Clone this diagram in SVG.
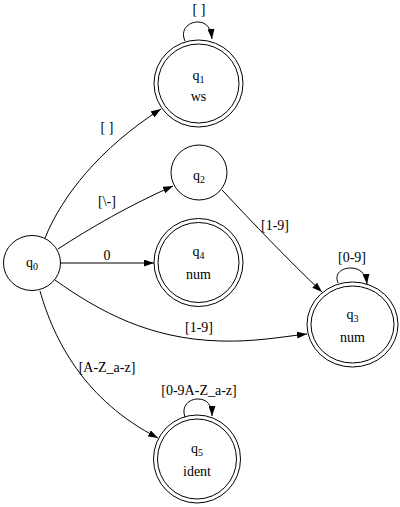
<svg xmlns="http://www.w3.org/2000/svg" width="400" height="507" viewBox="0 0 400 507">
<style>
  .n { fill: none; stroke: #000; stroke-width: 1; }
  .e { fill: none; stroke: #000; stroke-width: 1; marker-end: url(#arr); }
  text { font-family: "Liberation Serif", "Times New Roman", serif; font-size: 14px; fill: #000; text-anchor: middle; }
  .sub { font-size: 10px; }
</style>
<defs>
  <marker id="arr" markerUnits="userSpaceOnUse" markerWidth="10" markerHeight="7" viewBox="0 0 10 7" refX="10" refY="3.5" orient="auto">
    <path d="M0,0 L10,3.5 L0,7 z" fill="#000"/>
  </marker>
</defs>
<rect width="400" height="507" fill="#fff"/>
<g id="edges">
  <path class="e" d="M45,238 C62,196 100,148 161,109"/>
  <text x="107" y="131.5">[ ]</text>
  <path class="e" d="M58,249 C90,228 130,205 173,186"/>
  <text x="107" y="206">[\-]</text>
  <path class="e" d="M60.5,263 L154,263"/>
  <text x="107" y="260">0</text>
  <path class="e" d="M55,280 C100,312 150,339 220,341 C255,342 280,337 307,334"/>
  <text x="199" y="331.5">[1-9]</text>
  <path class="e" d="M40,291 C54,340 84,400 158,438"/>
  <text x="107" y="371.5">[A-Z_a-z]</text>
  <path class="e" d="M222,190 C252,222 290,262 322,292"/>
  <text x="275" y="229.5">[1-9]</text>
  <path class="e" d="M185,41 C180,30 188,22 198,22 C207,22 211,29 212,39"/>
  <text x="199" y="13.5">[ ]</text>
  <path class="e" d="M338,283 C334,273 342,268 351,268 C360,268 366,274 367,284"/>
  <text x="352" y="261.5">[0-9]</text>
  <path class="e" d="M185,417 C181,406 189,399 198,399 C207,399 212,405 212,416"/>
  <text x="199" y="394.5">[0-9A-Z_a-z]</text>
</g>
<g id="q0">
  <ellipse class="n" cx="32" cy="263" rx="28.5" ry="27.5"/>
  <text x="32" y="267">q<tspan class="sub" dy="3">0</tspan></text>
</g>
<g id="q1">
  <ellipse class="n" cx="198.5" cy="83.5" rx="44.5" ry="43.5"/>
  <ellipse class="n" cx="198.5" cy="83.5" rx="40.5" ry="39.5"/>
  <text x="198.5" y="80">q<tspan class="sub" dy="3">1</tspan></text>
  <text x="198.5" y="101">ws</text>
</g>
<g id="q2">
  <ellipse class="n" cx="199" cy="172.5" rx="28" ry="27.5"/>
  <text x="199" y="179.5">q<tspan class="sub" dy="3">2</tspan></text>
</g>
<g id="q4">
  <ellipse class="n" cx="198.5" cy="262.5" rx="44.5" ry="44"/>
  <ellipse class="n" cx="198.5" cy="262.5" rx="40.5" ry="40"/>
  <text x="198.5" y="256">q<tspan class="sub" dy="3">4</tspan></text>
  <text x="198.5" y="278.5">num</text>
</g>
<g id="q3">
  <ellipse class="n" cx="352.5" cy="324.5" rx="45.5" ry="42.5"/>
  <ellipse class="n" cx="352.5" cy="324.5" rx="41.5" ry="38.5"/>
  <text x="352.5" y="319">q<tspan class="sub" dy="3">3</tspan></text>
  <text x="352.5" y="341.5">num</text>
</g>
<g id="q5">
  <ellipse class="n" cx="197" cy="459" rx="43.5" ry="44"/>
  <ellipse class="n" cx="197" cy="459" rx="39.5" ry="40"/>
  <text x="197" y="453">q<tspan class="sub" dy="3">5</tspan></text>
  <text x="197" y="476">ident</text>
</g>
</svg>
